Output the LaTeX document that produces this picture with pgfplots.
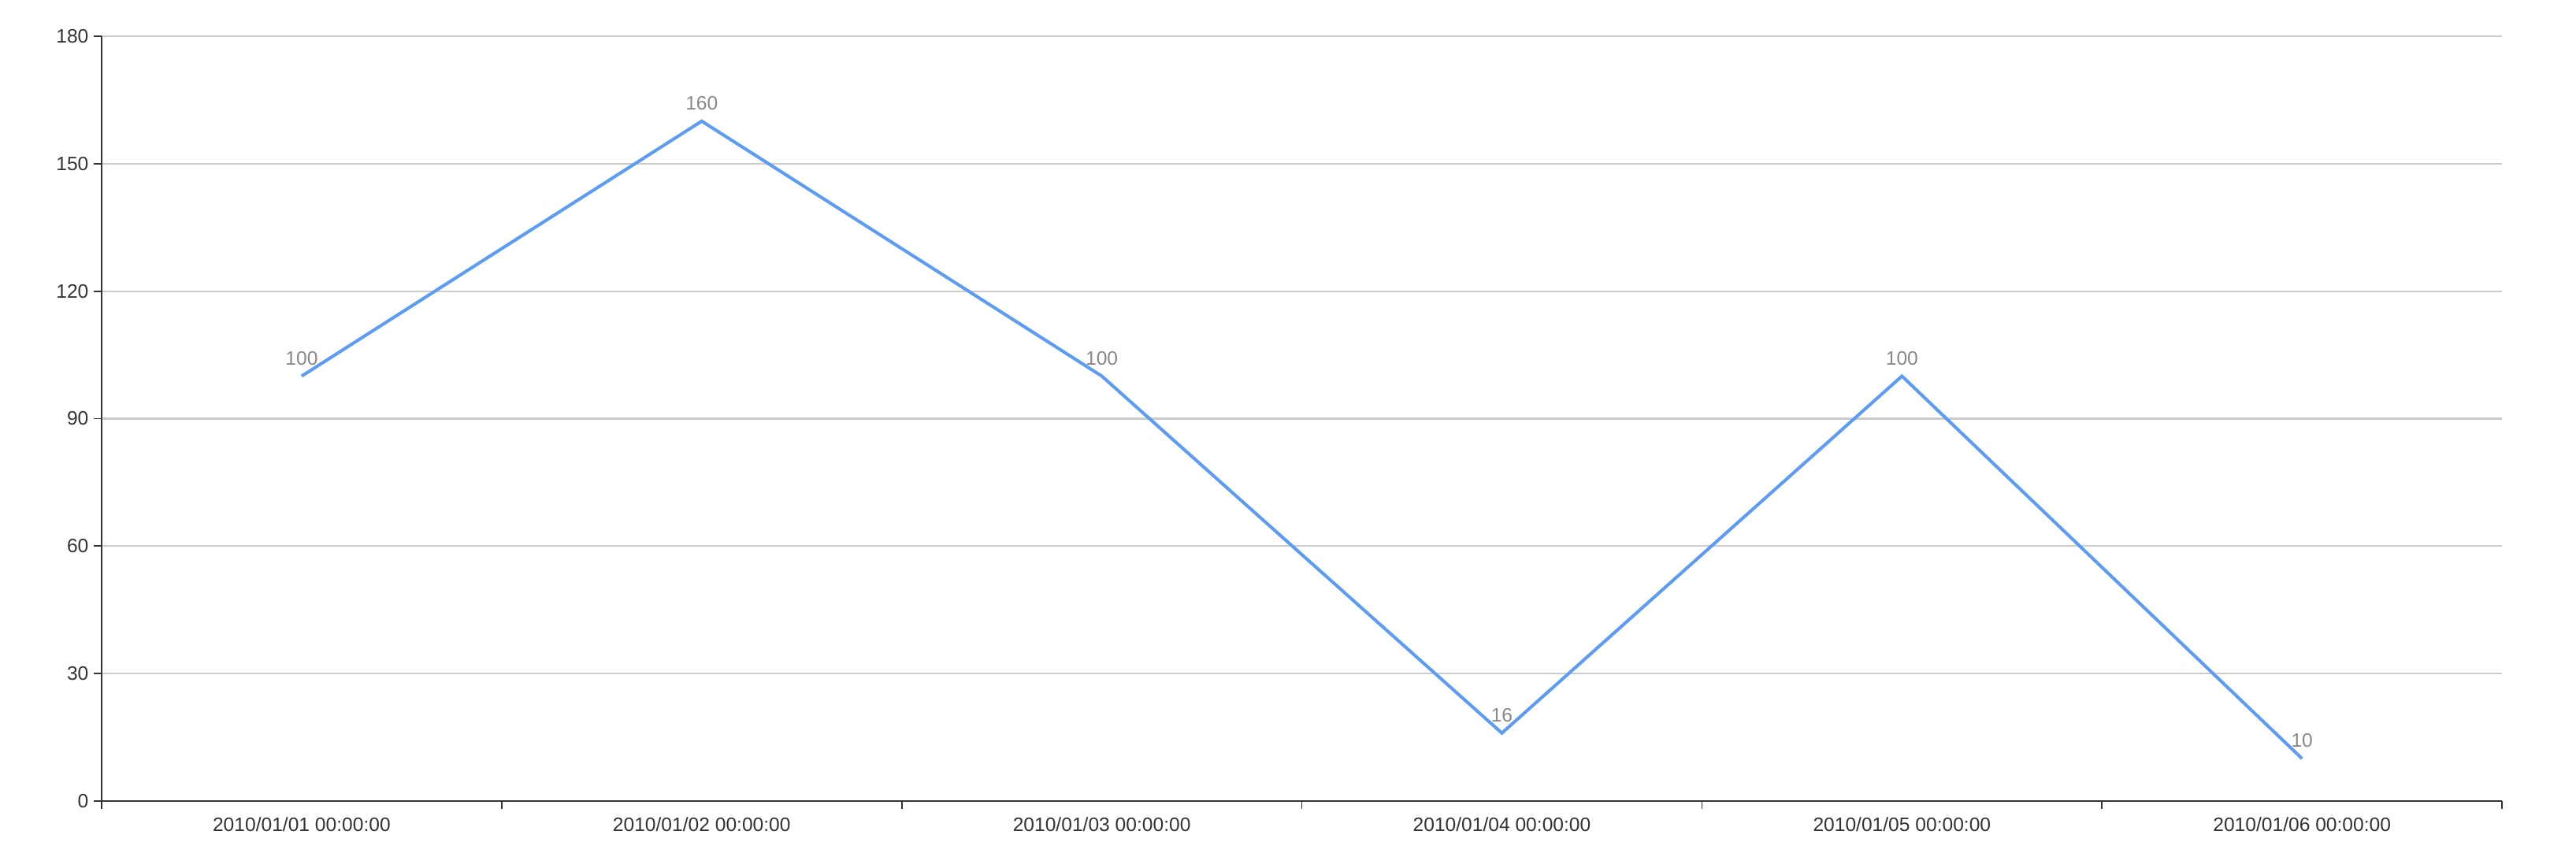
\documentclass[border=0pt]{standalone}
\usepackage{fontspec}
\setmainfont{Liberation Sans}
\usepackage{pgfplots}
\pgfplotsset{compat=1.18}
\definecolor{lineblue}{RGB}{92,156,245}
\definecolor{gridgray}{RGB}{204,204,204}
\definecolor{axisgray}{RGB}{51,51,51}
\definecolor{valgray}{RGB}{136,136,136}

\begin{document}
\begin{tikzpicture}
\begin{axis}[
    name=main, at={(0,0)}, anchor=south west,
    scale only axis, width=1015.7pt, height=323.7pt,
    xmin=-0.5, xmax=5.5, ymin=0, ymax=180,
    axis x line=bottom, axis y line=left,
    axis line style={-, axisgray, line width=0.8pt},
    xtick={-0.5,0.5,...,5.5},
    x tick label as interval,
    xticklabels={2010/01/01 00:00:00, 2010/01/02 00:00:00, 2010/01/03 00:00:00,
                 2010/01/04 00:00:00, 2010/01/05 00:00:00, 2010/01/06 00:00:00},
    ytick={0,30,...,180},
    ymajorgrids,
    major grid style={gridgray, line width=0.7pt},
    tick align=outside,
    major tick length=3.3pt,
    tick style={axisgray, line width=0.6pt},
    ticklabel style={font=\fontsize{8.2}{10}\selectfont, text=axisgray},
    yticklabel style={xshift=1.3pt},
    /pgf/number format/assume math mode=true,
    clip=false,
]
\addplot[lineblue, line width=1.35pt, mark=none,
    nodes near coords,
    every node near coord/.append style={font=\fontsize{8.2}{10}\selectfont,
        text=valgray, anchor=base, yshift=4.8pt}]
    coordinates {(0,100) (1,160) (2,100) (3,16) (4,100) (5,10)};
\end{axis}
\pgfresetboundingbox
\path (main.south west) ++(-43pt,-28.3pt) rectangle ([shift={(31.3pt,15.3pt)}]main.north east);
\end{tikzpicture}
\end{document}
